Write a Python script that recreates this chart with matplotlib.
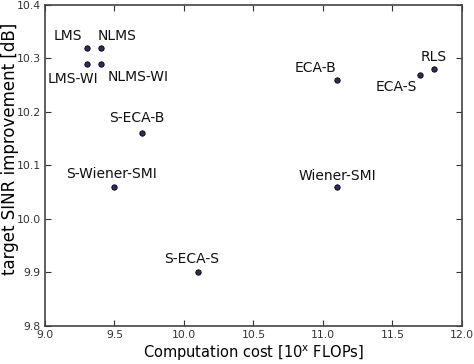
import matplotlib
matplotlib.use("Agg")
import matplotlib.pyplot as plt

names = ["LMS", "NLMS", "LMS-WI", "NLMS-WI", "S-ECA-B", "S-Wiener-SMI",
         "S-ECA-S", "ECA-B", "Wiener-SMI", "ECA-S", "RLS"]
cost = [9.3, 9.4, 9.3, 9.4, 9.7, 9.5, 10.1, 11.1, 11.1, 11.7, 11.8]
sinr = [10.32, 10.32, 10.29, 10.29, 10.16, 10.06, 9.90, 10.26, 10.06, 10.27, 10.28]
xticks = [9.0, 9.5, 10.0, 10.5, 11.0, 11.5, 12.0]
yticks = [9.8, 9.9, 10.0, 10.1, 10.2, 10.3, 10.4]

# label offsets in pixels (dx, dy) relative to each point
offsets = [(-19, 12), (16, 12), (-14, -15), (38, -13), (-5, 15), (-3, 13),
           (-6, 13), (-21, 12), (0, 11), (-24, -12), (-1, 12)]

fig = plt.figure(figsize=(4.74, 3.64), dpi=100)
ax = fig.add_axes([45/474, 1 - 326/364, (462-45)/474, (326-5)/364])
ax.scatter(cost, sinr, s=15, c="#2b2d62", edgecolors="black", linewidths=0.6, zorder=3)
for n, x, y, (dx, dy) in zip(names, cost, sinr, offsets):
    ax.annotate(n, (x, y), xytext=(dx, dy), textcoords="offset pixels",
                ha="center", va="center", fontsize=10, color="#111111")

ax.set_xlim(9.0, 12.0)
ax.set_ylim(9.8, 10.4)
ax.set_xticks(xticks)
ax.set_yticks(yticks)
ax.set_xticklabels([f"{v:.1f}" for v in xticks], fontsize=7.8)
ax.set_yticklabels([f"{v:.1f}" for v in yticks], fontsize=7.8)
ax.tick_params(direction="in", top=True, right=True, length=4, width=0.8, pad=3,
               colors="#333333")
for s in ax.spines.values():
    s.set_color("#444444")
    s.set_linewidth(1.2)
ax.set_xlabel("Computation cost [10$^{\\mathrm{x}}$ FLOPs]", fontsize=10.5, labelpad=2)
fig.text(10/474, 1 - 149/364, "target SINR improvement [dB]", rotation=90,
         ha="center", va="center", fontsize=12)
fig.savefig("out.png", dpi=100)
